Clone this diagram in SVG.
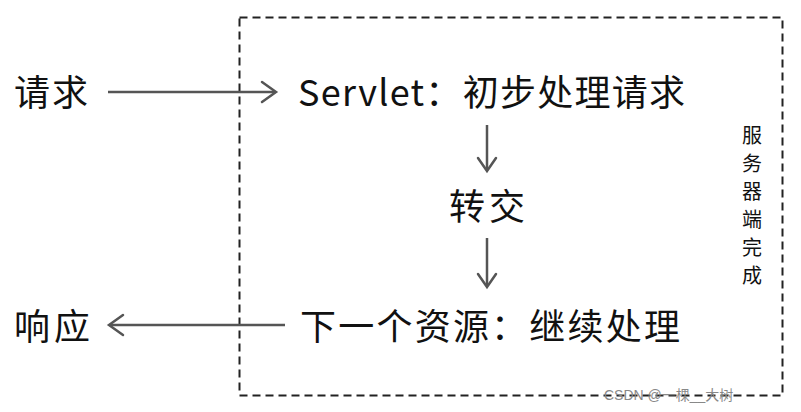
<svg xmlns="http://www.w3.org/2000/svg" width="801" height="412" viewBox="0 0 801 412">
<style>
text{font-family:"Noto Sans CJK SC","Noto Sans",sans-serif;fill:#111}
.t{font-size:36px}
.a{stroke:#555;stroke-width:2.5;fill:none}
.h{stroke:#555;stroke-width:2.5;fill:none;stroke-linecap:round}
</style>
<rect width="801" height="412" fill="#fff"/>
<rect x="239.5" y="17.5" width="543" height="378" fill="none" stroke="#222" stroke-width="2" stroke-dasharray="8,5"/>
<g id="req"><text class="t" x="14" y="106" textLength="74">请求</text></g>
<g id="servlet"><text class="t" x="298" y="106" textLength="387">Servlet：初步处理请求</text></g>
<g id="forward"><text class="t" x="449" y="220" textLength="76">转交</text></g>
<g id="next"><text class="t" x="300" y="340" textLength="380">下一个资源：继续处理</text></g>
<g id="resp"><text class="t" x="14" y="340" textLength="76">响应</text></g>
<g id="server" font-size="20"><text x="752" y="143" text-anchor="middle">服</text><text x="752" y="171" text-anchor="middle">务</text><text x="752" y="199" text-anchor="middle">器</text><text x="752" y="227" text-anchor="middle">端</text><text x="752" y="255" text-anchor="middle">完</text><text x="752" y="283" text-anchor="middle">成</text></g>
<g id="connectors">
<path class="a" d="M108 92H275"/><path class="h" d="M262 82L276 92L262 102"/>
<path class="a" d="M487 125V170"/><path class="h" d="M478 158L487 171L496 158"/>
<path class="a" d="M487 238V286"/><path class="h" d="M478 274L487 287L496 274"/>
<path class="a" d="M285 325H110"/><path class="h" d="M123 315L109 325L123 335"/>
</g>
<text x="604" y="400" font-size="14" style="fill:#888;font-family:'Liberation Sans','Noto Sans CJK SC',sans-serif">CSDN @一棵__大树</text>
</svg>
